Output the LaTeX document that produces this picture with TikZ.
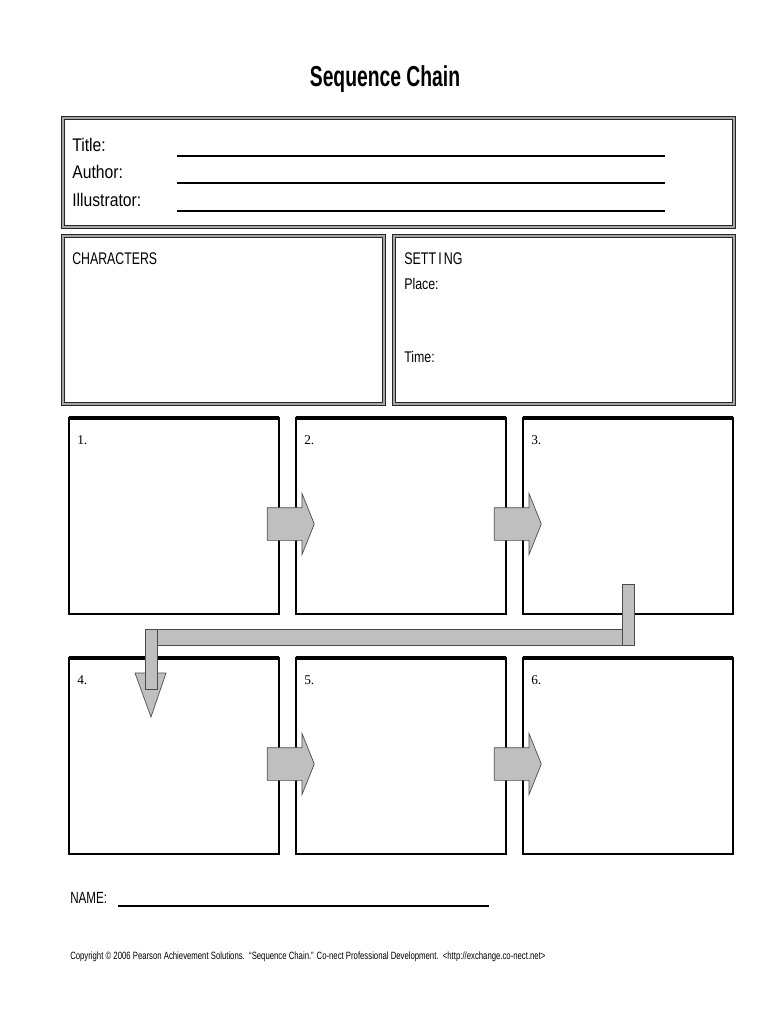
\documentclass[tikz,border=0pt]{standalone}
\usepackage{graphicx}
\usepackage{fontspec}
\setmainfont{Liberation Sans}
\newfontfamily\numfont{Liberation Serif}
\usetikzlibrary{calc,fit,shapes.arrows}
\newcommand{\narrow}[2]{\scalebox{#1}[1]{#2}}

\tikzset{
	dblbox/.style={draw=black!85, double=black!35, double distance=1.1pt, line width=0.75pt, inner sep=0pt, outer sep=0pt},
	seqbox/.style={draw=black, line width=1.3pt, fill=white, inner sep=0pt, outer sep=0pt},
	fatarrow/.style={single arrow, draw=black!70, fill=black!25, line width=0.5pt, inner xsep=0pt, inner ysep=0.4cm, single arrow head extend=0.35cm, single arrow tip angle=136, minimum height=1.175cm},
	bar/.style={draw=black!70, fill=black!25, line width=0.5pt},
	lbl/.style={inner sep=0pt, anchor=base west, font=\fontsize{13}{15}\selectfont},
	caplbl/.style={inner sep=0pt, anchor=base west, font=\fontsize{12}{14}\selectfont},
	smalllbl/.style={inner sep=0pt, anchor=base west, font=\fontsize{11}{13}\selectfont},
	num/.style={inner sep=0pt, anchor=base west, font=\numfont\fontsize{9.5}{11}\selectfont},
	fillline/.style={line width=0.8pt}
}

\begin{document}
\begin{tikzpicture}[x=0.025cm, y=-0.025cm]
	%%%%% START %%%%%
	\useasboundingbox[fill=white] (0,0) rectangle (768,1024);
	
	\node[inner sep=0pt, anchor=base, font=\bfseries\fontsize{20.5}{22}\selectfont] (head) at (385,87) {\narrow{0.67}{Sequence Chain}};
	
	% book details
	\node[dblbox, fit={(63,118) (734,227)}] (info) {};
	\foreach \nm/\lab/\y in {title/Title:/152, author/Author:/179, illus/Illustrator:/207}{
		\node[lbl] (\nm) at (72,\y) {\narrow{0.86}{\lab}};
		\draw[fillline] (177,\y+4) -- (665,\y+4);
	}
	
	\node[dblbox, fit={(63,236) (384,404)}] (chars) {};
	\node[caplbl] (charslbl) at (72,265) {\narrow{0.73}{CHARACTERS}};
	
	\node[dblbox, fit={(394,236) (734,404)}] (setting) {};
	\node[caplbl] (settinglbl) at (404,265) {\narrow{0.74}{SETT\,I\,NG}};
	\node[smalllbl] (place) at (404,289) {\narrow{0.8}{Place:}};
	\node[smalllbl] (time) at (404,362) {\narrow{0.8}{Time:}};
	
	% the six events
	\foreach \i/\x/\y in {1/69/418, 2/296/418, 3/523/418, 4/69/658, 5/296/658, 6/523/658}{
		\node[seqbox, fit={(\x,\y) (\x+210,\y+196)}] (b\i) {};
		\draw[line width=2.2pt] (b\i.north west) -- (b\i.north east);
		\node[num] (n\i) at ($(b\i.north west)+(8,26)$) {\i.};
	}
	
	\node[fatarrow] (a12) at ($(b1.east)+(8.5,8)$) {};
	\node[fatarrow] (a23) at ($(b2.east)+(8.5,8)$) {};
	\node[fatarrow] (a45) at ($(b4.east)+(8.5,8)$) {};
	\node[fatarrow] (a56) at ($(b5.east)+(8.5,8)$) {};
	
	% bent link from 3 back to 4
	\coordinate (rise) at (b3.south);
	\coordinate (drop) at ($(b4.north west)+(82,0)$);
	\draw[bar] ($(drop)+(-16,15)$) -- ($(drop)+(15,15)$) -- ($(drop)+(0,59)$) -- cycle;
	\draw[bar] ($(drop)+(-6,-29)$) rectangle ($(rise)+(6,31)$);
	\draw[bar] ($(rise)+(-6,-30)$) rectangle ($(rise)+(6,31)$);
	\draw[bar] ($(drop)+(-6,-29)$) rectangle ($(drop)+(6,31)$);
	
	% footer
	\node[lbl, font=\fontsize{11.5}{13}\selectfont] (name) at (70,903) {\narrow{0.72}{NAME:}};
	\draw[fillline] (118,906) -- (489,906);
	\node[lbl, font=\fontsize{7.5}{9}\selectfont] (copy) at (70,959) {\narrow{0.735}{Copyright © 2006 Pearson Achievement Solutions.\ \ “Sequence Chain.” Co-nect Professional Development.\ \ <http://exchange.co-nect.net>}};
	
	%%%%% END %%%%%
\end{tikzpicture}
\end{document}
